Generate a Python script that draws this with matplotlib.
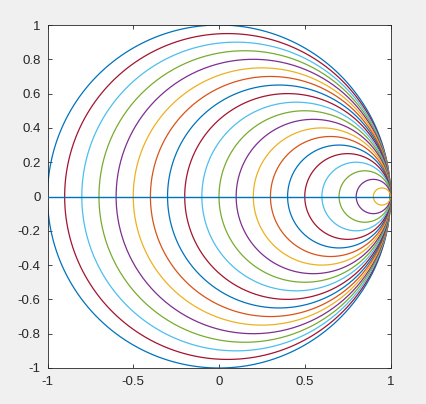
import numpy as np
import matplotlib.pyplot as plt

plt.rcParams['font.family'] = ['Liberation Sans', 'DejaVu Sans']

# left crossing point of each constant-resistance circle on the real axis
left_x = [-1.0, -0.9, -0.8, -0.7, -0.6, -0.5, -0.4, -0.3, -0.2, -0.1,
          0.0, 0.1, 0.2, 0.3, 0.4, 0.5, 0.6, 0.7, 0.8, 0.9]
colors = ['#0072BD', '#A2142F', '#4DBEEE', '#77AC30', '#7E2F8E', '#EDB120', '#D95319']

xticks = [-1, -0.5, 0, 0.5, 1]
xlabels = ['-1', '-0.5', '0', '0.5', '1']
yticks = [-1, -0.8, -0.6, -0.4, -0.2, 0, 0.2, 0.4, 0.6, 0.8, 1]
ylabels = ['-1', '-0.8', '-0.6', '-0.4', '-0.2', '0', '0.2', '0.4', '0.6', '0.8', '1']

fig = plt.figure(figsize=(4.26, 4.04), dpi=100, facecolor='#F0F0F0')
ax = fig.add_axes([47.5 / 426, 36 / 404, 343 / 426, 343 / 404])

t = np.linspace(0, 2 * np.pi, 400)
for i, lx in enumerate(left_x):
    c = (lx + 1) / 2
    r = (1 - lx) / 2
    ax.plot(c + r * np.cos(t), r * np.sin(t), color=colors[i % 7], lw=0.9)

ax.plot([-1, 1], [0, 0], color='#0072BD', lw=1.0, zorder=5)

ax.set_xlim(-1, 1)
ax.set_ylim(-1, 1)
ax.set_xticks(xticks)
ax.set_xticklabels(xlabels)
ax.set_yticks(yticks)
ax.set_yticklabels(ylabels)
ax.tick_params(direction='in', top=True, right=True, length=3, width=0.6,
               colors='#262626', labelsize=9.5)
ax.tick_params(axis='x', pad=6)
ax.tick_params(axis='y', pad=5)
for s in ax.spines.values():
    s.set_color('#262626')
    s.set_linewidth(0.6)

fig.savefig('out.png', dpi=100, facecolor=fig.get_facecolor())
